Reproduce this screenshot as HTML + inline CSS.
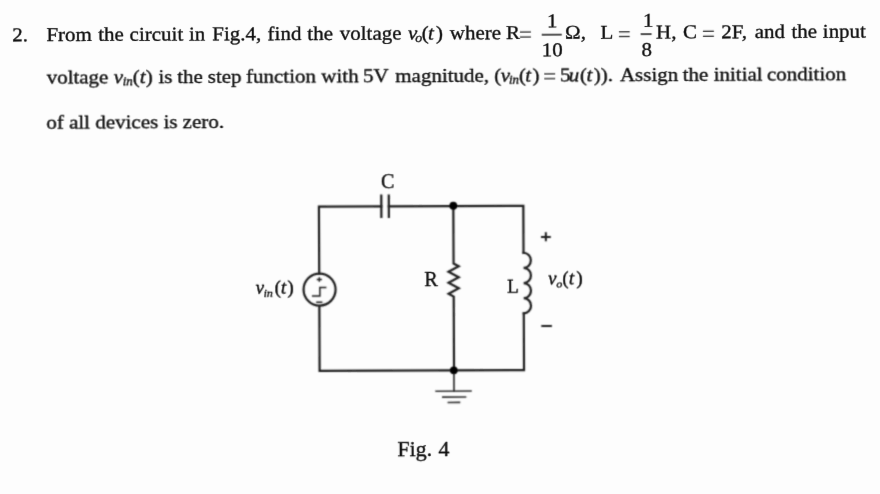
<!DOCTYPE html>
<html><head><meta charset="utf-8"><style>
html,body{margin:0;padding:0;background:#fdfdfd;width:880px;height:494px;overflow:hidden}
svg{position:absolute;left:0;top:0}
text{font-family:"Liberation Serif",serif;white-space:pre;stroke:#0c0c0c;stroke-width:0.35px}
</style></head><body>
<svg width="880" height="494" viewBox="0 0 880 494">
<defs>
<filter id="ft" x="0" y="0" width="880" height="494" filterUnits="userSpaceOnUse"><feConvolveMatrix order="5" kernelMatrix="0.00000 0.00000 0.00000 0.00000 0.00000 0.00000 0.00163 0.03713 0.00163 0.00000 0.00000 0.03713 0.84496 0.03713 0.00000 0.00000 0.00163 0.03713 0.00163 0.00000 0.00000 0.00000 0.00000 0.00000 0.00000"/></filter>
<filter id="fc" x="0" y="0" width="880" height="494" filterUnits="userSpaceOnUse"><feConvolveMatrix order="5" kernelMatrix="0.00009 0.00198 0.00548 0.00198 0.00009 0.00198 0.04220 0.11707 0.04220 0.00198 0.00548 0.11707 0.32480 0.11707 0.00548 0.00198 0.04220 0.11707 0.04220 0.00198 0.00009 0.00198 0.00548 0.00198 0.00009"/></filter>
</defs>
<g filter="url(#ft)"><g transform="rotate(-0.245 440 247)">
<text transform="translate(13.09 39.40) scale(1 0.93)" font-size="21" fill="#0c0c0c">2.</text>
<text transform="translate(47.29 39.40) scale(1 0.93)" font-size="21" fill="#0c0c0c">From</text>
<text transform="translate(99.09 39.40) scale(1 0.93)" font-size="21" fill="#0c0c0c">the</text>
<text transform="translate(130.49 39.40) scale(1 0.93)" font-size="21" fill="#0c0c0c">circuit</text>
<text transform="translate(189.89 39.40) scale(1 0.93)" font-size="21" fill="#0c0c0c">in</text>
<text transform="translate(213.09 39.40) scale(1 0.93)" font-size="21" fill="#0c0c0c">Fig.4,</text>
<text transform="translate(268.49 39.40) scale(1 0.93)" font-size="21" fill="#0c0c0c">find</text>
<text transform="translate(308.19 39.40) scale(1 0.93)" font-size="21" fill="#0c0c0c">the</text>
<text transform="translate(340.69 39.40) scale(1 0.93)" font-size="21" fill="#0c0c0c">voltage</text>
<text transform="translate(408.79 39.40) scale(1 0.93)" font-size="21" font-style="italic" fill="#0c0c0c">v</text>
<text transform="translate(416.18 41.80) scale(1 0.93)" font-size="14" font-style="italic" fill="#0c0c0c">o</text>
<text transform="translate(422.69 39.40) scale(1 0.93)" font-size="21" fill="#0c0c0c">(</text>
<text transform="translate(428.89 39.40) scale(1 0.93)" font-size="21" font-style="italic" fill="#0c0c0c">t</text>
<text transform="translate(436.89 39.40) scale(1 0.93)" font-size="21" fill="#0c0c0c">)</text>
<text transform="translate(450.69 39.40) scale(1 0.93)" font-size="21" fill="#0c0c0c">where</text>
<text transform="translate(506.99 39.40) scale(1 0.93)" font-size="21" fill="#0c0c0c">R</text>
<text transform="translate(548.04 27.60) scale(1 0.93)" font-size="21" fill="#0c0c0c">1</text>
<text transform="translate(542.51 56.80) scale(1 0.93)" font-size="21" fill="#0c0c0c">10</text>
<text transform="translate(565.99 39.40) scale(1 0.93)" font-size="21" fill="#0c0c0c">Ω,</text>
<text transform="translate(601.39 39.40) scale(1 0.93)" font-size="21" fill="#0c0c0c">L</text>
<text transform="translate(643.94 27.60) scale(1 0.93)" font-size="21" fill="#0c0c0c">1</text>
<text transform="translate(642.21 56.80) scale(1 0.93)" font-size="21" fill="#0c0c0c">8</text>
<text transform="translate(656.99 39.40) scale(1 0.93)" font-size="21" fill="#0c0c0c">H,</text>
<text transform="translate(683.89 39.40) scale(1 0.93)" font-size="21" fill="#0c0c0c">C</text>
<text transform="translate(722.19 39.40) scale(1 0.93)" font-size="21" fill="#0c0c0c">2F,</text>
<text transform="translate(755.69 39.40) scale(1 0.93)" font-size="21" fill="#0c0c0c">and</text>
<text transform="translate(792.39 39.40) scale(1 0.93)" font-size="21" fill="#0c0c0c">the</text>
<text transform="translate(823.69 39.40) scale(1 0.93)" font-size="21" fill="#0c0c0c">input</text>
<text transform="translate(47.41 81.50) scale(1 0.93)" font-size="21" fill="#0c0c0c">voltage</text>
<text transform="translate(114.61 81.50) scale(1 0.93)" font-size="21" font-style="italic" fill="#0c0c0c">v</text>
<text transform="translate(123.45 83.90) scale(1 0.93)" font-size="13" font-style="italic" fill="#0c0c0c">in</text>
<text transform="translate(133.51 81.50) scale(1 0.93)" font-size="21" fill="#0c0c0c">(</text>
<text transform="translate(140.46 81.50) scale(1 0.93)" font-size="21" font-style="italic" fill="#0c0c0c">t</text>
<text transform="translate(146.51 81.50) scale(1 0.93)" font-size="21" fill="#0c0c0c">)</text>
<text transform="translate(159.21 81.50) scale(1 0.93)" font-size="21" fill="#0c0c0c">is</text>
<text transform="translate(178.01 81.50) scale(1 0.93)" font-size="21" fill="#0c0c0c">the</text>
<text transform="translate(208.51 81.50) scale(1 0.93)" font-size="21" fill="#0c0c0c">step</text>
<text transform="translate(246.81 81.50) scale(1 0.93)" font-size="21" fill="#0c0c0c">function</text>
<text transform="translate(322.11 81.50) scale(1 0.93)" font-size="21" fill="#0c0c0c">with</text>
<text transform="translate(363.71 81.50) scale(1 0.93)" font-size="21" fill="#0c0c0c">5V</text>
<text transform="translate(396.01 81.50) scale(1 0.93)" font-size="21" fill="#0c0c0c">magnitude,</text>
<text transform="translate(495.01 81.50) scale(1 0.93)" font-size="21" fill="#0c0c0c">(</text>
<text transform="translate(501.41 81.50) scale(1 0.93)" font-size="21" font-style="italic" fill="#0c0c0c">v</text>
<text transform="translate(509.70 83.90) scale(1 0.93)" font-size="13" font-style="italic" fill="#0c0c0c">in</text>
<text transform="translate(519.71 81.50) scale(1 0.93)" font-size="21" fill="#0c0c0c">(</text>
<text transform="translate(526.01 81.50) scale(1 0.93)" font-size="21" font-style="italic" fill="#0c0c0c">t</text>
<text transform="translate(533.21 81.50) scale(1 0.93)" font-size="21" fill="#0c0c0c">)</text>
<text transform="translate(560.71 81.50) scale(1 0.93)" font-size="21" fill="#0c0c0c">5</text>
<text transform="translate(569.51 81.50) scale(1 0.93)" font-size="21" font-style="italic" fill="#0c0c0c">u</text>
<text transform="translate(580.71 81.50) scale(1 0.93)" font-size="21" fill="#0c0c0c">(</text>
<text transform="translate(587.21 81.50) scale(1 0.93)" font-size="21" font-style="italic" fill="#0c0c0c">t</text>
<text transform="translate(594.41 81.50) scale(1 0.93)" font-size="21" fill="#0c0c0c">))</text>
<text transform="translate(608.51 81.50) scale(1 0.93)" font-size="21" fill="#0c0c0c">.</text>
<text transform="translate(620.71 81.50) scale(1 0.93)" font-size="21" fill="#0c0c0c">Assign</text>
<text transform="translate(683.41 81.50) scale(1 0.93)" font-size="21" fill="#0c0c0c">the</text>
<text transform="translate(714.41 81.50) scale(1 0.93)" font-size="21" fill="#0c0c0c">initial</text>
<text transform="translate(767.71 81.50) scale(1 0.93)" font-size="21" fill="#0c0c0c">condition</text>
<text transform="translate(46.91 126.75) scale(1 0.93)" font-size="21" fill="#0c0c0c">of all devices is zero.</text>
<text transform="translate(381.15 188.40) scale(1 1)" font-size="20" fill="#0c0c0c">C</text>
<text transform="translate(424.33 286.10) scale(1 1)" font-size="20" fill="#0c0c0c">R</text>
<text transform="translate(507.10 293.00) scale(1 1)" font-size="19" fill="#0c0c0c">L</text>
<text transform="translate(547.94 285.30) scale(1 0.94)" font-size="19" font-style="italic" fill="#0c0c0c">v</text>
<text transform="translate(556.32 288.30) scale(1 0.94)" font-size="12" font-style="italic" fill="#0c0c0c">o</text>
<text transform="translate(562.34 285.30) scale(1 0.94)" font-size="19" fill="#0c0c0c">(</text>
<text transform="translate(568.84 285.30) scale(1 0.94)" font-size="19" font-style="italic" fill="#0c0c0c">t</text>
<text transform="translate(576.34 285.30) scale(1 0.94)" font-size="19" fill="#0c0c0c">)</text>
<text transform="translate(255.50 293.40) scale(1 0.94)" font-size="19" font-style="italic" fill="#0c0c0c">v</text>
<text transform="translate(263.39 295.60) scale(1 0.94)" font-size="12" font-style="italic" fill="#0c0c0c">in</text>
<text transform="translate(274.40 293.40) scale(1 0.94)" font-size="19" fill="#0c0c0c">(</text>
<text transform="translate(280.80 293.40) scale(1 0.94)" font-size="19" font-style="italic" fill="#0c0c0c">t</text>
<text transform="translate(287.30 293.40) scale(1 0.94)" font-size="19" fill="#0c0c0c">)</text>
<text transform="translate(396.41 456.20) scale(1 0.93)" font-size="22" fill="#0c0c0c">Fig.</text>
<text transform="translate(437.41 456.20) scale(1 0.93)" font-size="22" fill="#0c0c0c">4</text>
<path d="M520.9 32.47 H531.8 M520.9 37.27 H531.8 M619.9 32.5 H630.6 M619.9 37.3 H630.6 M703.9 32.45 H714.8 M703.9 37.25 H714.8 M545.0 74.4 H555.9 M545.0 79.2 H555.9" stroke="#2a2a2a" stroke-width="1.25" fill="none"/>
<path d="M542.7 35.3 H562.7 M641.6 35.0 H652.5" stroke="#1a1a1a" stroke-width="1.4" fill="none"/>
</g></g>
<g filter="url(#fc)"><g transform="rotate(-0.245 440 247)">
<g fill="none" stroke="#1c1c1c" stroke-width="2.2" stroke-linejoin="miter" stroke-linecap="square">
<path d="M381.5 206.2 H319.1 V273.2 M319.1 305.6 V370.4 H523.5 V313.7 M523.5 253.1 V206.2 H389.0"/>
<path d="M381.5 194.2 V217.7 M389.0 194.2 V217.7" stroke-linecap="butt"/>
<path d="M453.5 206.2 V263.6 L458.6 266.3 L448.4 271.8 L458.6 277.3 L448.4 282.8 L458.6 288.3 L448.4 293.8 L453.5 296.6 V370.4" stroke-linecap="butt"/>
<path d="M453.4 370.4 V391.2" stroke-width="1.7" stroke="#303030"/>
<path d="M523.5 253.1 A7.3 7.575 0 0 1 523.5 268.25 A7.3 7.575 0 0 1 523.5 283.4 A7.3 7.575 0 0 1 523.5 298.55 A7.3 7.575 0 0 1 523.5 313.7"/>
<circle cx="319.4" cy="289.1" r="16"/>
<path d="M434.7 391.2 H471.2 M441.4 397.1 H465.7 M446.9 402.5 H459.6" stroke-width="1.6" stroke="#303030" stroke-linecap="butt"/>
<path d="M311.8 295.5 H319.7 V286.9 H326.2 M316.0 301.8 H322.2 M316.6 279.0 H321.8 M319.2 276.8 V281.2" stroke-width="1.5" stroke-linecap="butt"/>
<path d="M541.0 237.4 H550.8 M545.9 232.7 V241.6 M541.0 326.4 H551.5" stroke-width="2.0" stroke-linecap="butt"/>
</g>
<circle cx="453.5" cy="205.8" r="3.9" fill="#000"/>
<circle cx="453.3" cy="370.4" r="3.9" fill="#000"/>

</g></g>
</svg>
</body></html>
